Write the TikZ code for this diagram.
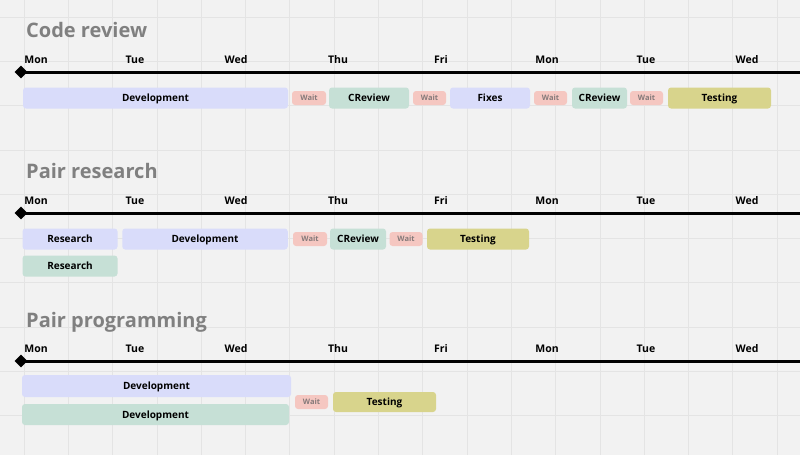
\documentclass[tikz,border=0pt]{standalone}
\usepackage{fontspec}
\setmainfont{Open Sans}
\usetikzlibrary{shapes.geometric}
\definecolor{bg}{HTML}{F2F2F2}
\definecolor{gridc}{HTML}{E4E4E4}
\definecolor{lav}{HTML}{D9DCFA}
\definecolor{mint}{HTML}{C6E0D6}
\definecolor{pink}{HTML}{F5C7C1}
\definecolor{olive}{HTML}{D8D48C}
\definecolor{titlegray}{HTML}{808080}
\definecolor{waitgray}{HTML}{857A7A}
\begin{document}
\begin{tikzpicture}[x=1pt,y=-1pt,
    title/.style={anchor=base west,inner sep=0,text=titlegray,font=\bfseries\fontsize{20}{24}\selectfont},
    day/.style={anchor=base,inner sep=0,font=\bfseries\fontsize{10.5}{12}\selectfont},
    start/.style={diamond,fill=black,minimum size=13pt,inner sep=0},
    bar/.style={rounded corners=3pt,inner sep=0,minimum height=21pt,text height=7.5pt,text depth=0pt,font=\bfseries\fontsize{10}{12}\selectfont},
    dev/.style={bar,fill=lav},
    rev/.style={bar,fill=mint},
    test/.style={bar,fill=olive},
    wait/.style={bar,fill=pink,minimum height=14pt,text height=5.6pt,text=waitgray,font=\bfseries\fontsize{7.5}{9}\selectfont}]
\useasboundingbox(0,0)rectangle(800,455);
\fill[bg](0,0)rectangle(800,455);
% grid
\foreach \k in {0,...,17}
    \draw[gridc,line width=0.8pt](24+44.3*\k,0)--(24+44.3*\k,455);
\foreach \k in {0,...,9}
    \draw[gridc,line width=0.8pt](0,17+44.3*\k)--(800,17+44.3*\k);

% timelines
\foreach \s/\y in {1/72,2/213,3/361}
{
    \coordinate (e\s) at (806,\y);
    \node[start] (s\s) at (21,\y) {};
    \draw[line width=3pt](s\s.center)--(e\s);
    \foreach \d/\x [count=\i] in {Mon/36,Tue/135,Wed/236,Thu/338,Fri/441,Mon/547,Tue/646,Wed/747}
        \node[day] (d\s-\i) at (\x,\y-9) {\d};
}

\node[title] (t1) at (26,37) {Code review};
\node[title] (t2) at (26,178) {Pair research};
\node[title] (t3) at (26,327) {Pair programming};

% code review
\node[dev,minimum width=265pt] (cr1) at (155.5,98) {Development};
\node[wait,minimum width=34pt] (cr2) at (309,98) {Wait};
\node[rev,minimum width=80pt] (cr3) at (369,98) {CReview};
\node[wait,minimum width=33pt] (cr4) at (429.5,98) {Wait};
\node[dev,minimum width=80pt] (cr5) at (490,98) {Fixes};
\node[wait,minimum width=33pt] (cr6) at (550.5,98) {Wait};
\node[rev,minimum width=55pt] (cr7) at (599.5,98) {CReview};
\node[wait,minimum width=33pt] (cr8) at (646.5,98) {Wait};
\node[test,minimum width=103pt] (cr9) at (719.5,98) {Testing};

% pair research
\node[dev,minimum width=95pt] (pr1) at (70,239) {Research};
\node[dev,minimum width=165.5pt] (pr2) at (205,239) {Development};
\node[wait,minimum width=34pt] (pr3) at (310,239) {Wait};
\node[rev,minimum width=56pt] (pr4) at (358,239) {CReview};
\node[wait,minimum width=33pt] (pr5) at (406,239) {Wait};
\node[test,minimum width=102pt] (pr6) at (478,239) {Testing};
\node[rev,minimum width=95pt] (pr7) at (70,266) {Research};

% pair programming
\node[dev,minimum width=269pt,minimum height=22pt] (pp1) at (156.5,386) {Development};
\node[rev,minimum width=267pt] (pp2) at (155.5,414.5) {Development};
\node[wait,minimum width=33pt] (pp3) at (311.5,402) {Wait};
\node[test,minimum width=103pt,minimum height=20pt] (pp4) at (384.5,402) {Testing};

\end{tikzpicture}
\end{document}
